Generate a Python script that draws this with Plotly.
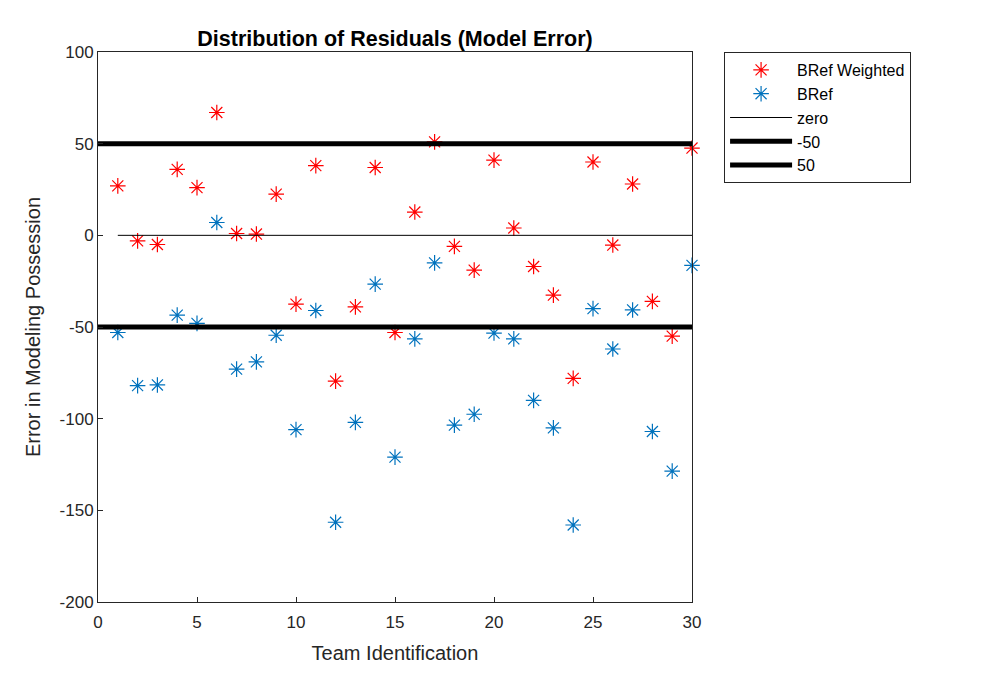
import plotly.graph_objects as go

# Team ids and residuals
teams = list(range(1, 31))
bref_weighted = [27, -3, -5, 36, 26, 67, 1, 0.7, 22.5, -37.5,
                 38, -79.5, -39, 37, -53, 12.7, 51, -6, -19, 41,
                 4, -17, -32.6, -78, 40, -5.3, 28, -36, -55, 47.6]
bref = [-53, -82, -81.6, -43.5, -48, 7, -73, -69, -54.5, -106,
        -41, -156.5, -102, -26.6, -121, -56.5, -15, -103.5, -97.6, -53.3,
        -56.5, -90, -105, -158, -40, -62, -40.7, -107, -128.6, -16.4]
zero_x = [1, 30]
zero_y = [0, 0]
band_x = [0, 30]
low_y = [-50, -50]
high_y = [50, 50]
x_ticks = [0, 5, 10, 15, 20, 25, 30]
y_ticks = [-200, -150, -100, -50, 0, 50, 100]
y_labels = ['-200', '-150', '-100', '-50', '0', '50', '100']

font = 'Liberation Sans, Arial, sans-serif'

fig = go.Figure()
fig.add_trace(go.Scatter(
    x=teams, y=bref_weighted, mode='markers', name='BRef Weighted',
    marker=dict(symbol='asterisk-open', size=13, color='#FF0000',
                line=dict(color='#FF0000', width=1.2)),
    cliponaxis=False
))
fig.add_trace(go.Scatter(
    x=teams, y=bref, mode='markers', name='BRef',
    marker=dict(symbol='asterisk-open', size=13, color='#0072BD',
                line=dict(color='#0072BD', width=1.2)),
    cliponaxis=False
))
fig.add_trace(go.Scatter(
    x=zero_x, y=zero_y, mode='lines', name='zero',
    line=dict(color='black', width=1)
))
fig.add_trace(go.Scatter(
    x=band_x, y=low_y, mode='lines', name='-50',
    line=dict(color='black', width=5)
))
fig.add_trace(go.Scatter(
    x=band_x, y=high_y, mode='lines', name='50',
    line=dict(color='black', width=5)
))

axis_common = dict(
    showgrid=False, zeroline=False, showline=True, mirror=True,
    linecolor='#262626', linewidth=1, ticks='inside', ticklen=5,
    tickcolor='#262626', tickfont=dict(size=17, color='#262626', family=font)
)

# the page adds an 8px body margin, so the margins are shifted by 8px
fig.update_layout(
    width=1000, height=690,
    margin=dict(l=90, r=316, t=44, b=96),
    paper_bgcolor='white', plot_bgcolor='white',
    font=dict(family=font, color='#262626'),
    title=dict(text='<b>Distribution of Residuals (Model Error)</b>',
               x=(90 + 684) / 2 / 1000, xanchor='center',
               y=1 - 30 / 690, yanchor='middle',
               font=dict(size=21.5, color='black', family=font)),
    xaxis=dict(range=[0, 30], tickvals=x_ticks, ticklabelstandoff=5,
               title=dict(text='Team Identification', standoff=14,
                          font=dict(size=20, family=font)),
               **axis_common),
    yaxis=dict(range=[-200, 100], tickvals=y_ticks, ticktext=y_labels,
               title=dict(text='Error in Modeling Possession', standoff=13,
                          font=dict(size=20, family=font)),
               **axis_common),
    legend=dict(x=1.054, y=1, xanchor='left', yanchor='top',
                bordercolor='#262626', borderwidth=1, bgcolor='white',
                font=dict(size=16, color='black', family=font),
                itemwidth=62, tracegroupgap=0),
    showlegend=True
)

fig.write_html('out.html')
